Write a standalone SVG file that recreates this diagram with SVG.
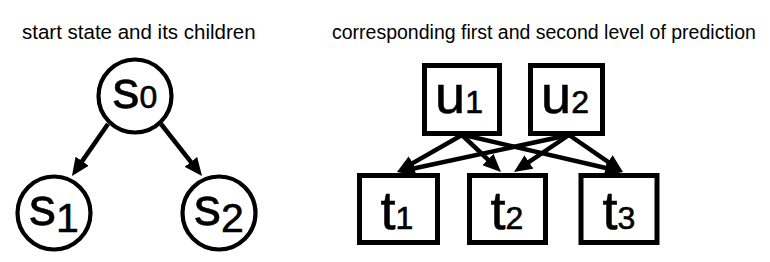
<svg xmlns="http://www.w3.org/2000/svg" width="770" height="262" viewBox="0 0 770 262">
<defs>
<style>
.title{font-family:"Liberation Sans",Arial,sans-serif;font-size:19.5px;fill:#000}
.lbl{font-family:"Liberation Sans",Arial,sans-serif;fill:#000;text-anchor:middle;stroke:#000;stroke-width:0.6}
.circ{fill:#fff;stroke:#000;stroke-width:4.2}
.box{fill:#fff;stroke:#000;stroke-width:5}
.edge{fill:none;stroke:#000;stroke-width:4.5}
</style>
<marker id="ah" markerUnits="userSpaceOnUse" markerWidth="18" markerHeight="16" refX="7" refY="8" orient="auto">
<path d="M0,0 L18,8 L0,16 Z" fill="#000"/>
</marker>
</defs>
<rect width="770" height="262" fill="#fff"/>
<text class="title" x="22" y="39" font-size="20.5" style="font-size:20.5px">start state and its children</text>
<text class="title" x="332" y="39">corresponding first and second level of prediction</text>

<g id="connectors">
<path class="edge" d="M108,124 L78.2,166.9" marker-end="url(#ah)"/>
<path class="edge" d="M161,124 L195.2,167.4" marker-end="url(#ah)"/>
<path class="edge" d="M462,135 L406.6,166.6" marker-end="url(#ah)"/>
<path class="edge" d="M462,135 L493,164.4" marker-end="url(#ah)"/>
<path class="edge" d="M464,135 L612.3,169.5" marker-end="url(#ah)"/>
<path class="edge" d="M569,135 L407.8,169.7" marker-end="url(#ah)"/>
<path class="edge" d="M569,135 L523.1,165.9" marker-end="url(#ah)"/>
<path class="edge" d="M569,135 L613.9,165.8" marker-end="url(#ah)"/>
</g>

<g id="s0">
<circle class="circ" cx="135" cy="96" r="36.5"/>
<text class="lbl" x="135" y="108" font-size="54">s<tspan font-size="32">0</tspan></text>
</g>
<g id="s1">
<circle class="circ" cx="54" cy="213" r="36.5"/>
<text class="lbl" x="54" y="225" font-size="54">s<tspan font-size="41" dy="7">1</tspan></text>
</g>
<g id="s2">
<circle class="circ" cx="219" cy="213" r="36.5"/>
<text class="lbl" x="219" y="225" font-size="54">s<tspan font-size="41" dy="7">2</tspan></text>
</g>

<g id="u1">
<rect class="box" x="424.5" y="65.5" width="75" height="68"/>
<text class="lbl" x="459" y="113" font-size="54">u<tspan font-size="32">1</tspan></text>
</g>
<g id="u2">
<rect class="box" x="530.5" y="65.5" width="72" height="68"/>
<text class="lbl" x="565" y="113" font-size="54">u<tspan font-size="32">2</tspan></text>
</g>

<g id="t1">
<rect class="box" x="359.5" y="175.5" width="78" height="67"/>
<text class="lbl" x="397" y="229" font-size="54">t<tspan font-size="32">1</tspan></text>
</g>
<g id="t2">
<rect class="box" x="469.5" y="175.5" width="76" height="67"/>
<text class="lbl" x="507" y="229" font-size="54">t<tspan font-size="32">2</tspan></text>
</g>
<g id="t3">
<rect class="box" x="581" y="175.5" width="76" height="67"/>
<text class="lbl" x="619" y="229" font-size="54">t<tspan font-size="32">3</tspan></text>
</g>
</svg>
